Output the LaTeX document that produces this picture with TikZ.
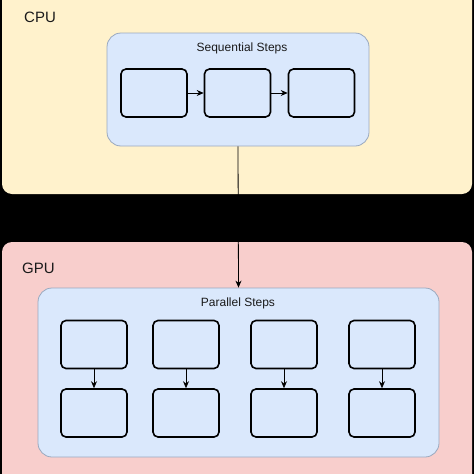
\documentclass[tikz,border=0pt]{standalone}
\usepackage{fontspec}
\setmainfont{Liberation Sans}
\usetikzlibrary{arrows.meta}
\definecolor{cpufill}{HTML}{FFF2CC}
\definecolor{gpufill}{HTML}{F8CECC}
\definecolor{grpfill}{HTML}{DAE8FC}
\definecolor{grpdraw}{HTML}{9AA9BF}
\definecolor{txt}{HTML}{1A1A1A}
\tikzset{
  region/.style={rounded corners=10pt, line width=0.6pt},
  group/.style={fill=grpfill, draw=grpdraw, line width=0.8pt, rounded corners=14pt},
  stepbox/.style={draw=black, fill=grpfill, line width=1.6pt, rounded corners=5pt, minimum width=66pt, minimum height=48pt, inner sep=0pt},
  conn/.style={draw=black, line width=0.8pt, -{Stealth[length=7pt,width=6pt]}},
  lab/.style={font=\fontsize{12}{14}\selectfont, text=txt, inner sep=0pt},
  biglab/.style={font=\fontsize{15}{17}\selectfont, text=txt, inner sep=0pt}
}
\begin{document}
\begin{tikzpicture}[x=1pt,y=-1pt]
\fill[black] (0,0) rectangle (474,474);
\useasboundingbox (0,0) rectangle (474,474);
% CPU region
\fill[cpufill, region] (2,-20) rectangle (472,194);
\node[biglab, anchor=west] (cpu) at (24,17) {CPU};
% GPU region
\fill[gpufill, region] (2,242) rectangle (472,494);
\node[biglab, anchor=west] (gpu) at (22,268) {GPU};
% Sequential group
\node[group, minimum width=262pt, minimum height=113pt, inner sep=0pt] (seq) at (238,89.5) {};
\node[lab] (seqlab) at (242,48) {Sequential Steps};
\node[stepbox] (s1) at (154,93) {};
\node[stepbox] (s2) at (237.5,93) {};
\node[stepbox] (s3) at (321.5,93) {};
\draw[conn] (s1) -- (s2);
\draw[conn] (s2) -- (s3);
% Parallel group
\node[group, minimum width=401pt, minimum height=169pt, inner sep=0pt] (par) at (238.5,372.5) {};
\node[lab] (parlab) at (238,303) {Parallel Steps};
\foreach \i/\x in {1/94,2/186,3/284,4/382}{
  \node[stepbox] (t\i) at (\x,344.5) {};
  \node[stepbox] (b\i) at (\x,413) {};
  \draw[conn] (t\i) -- (b\i);
}
\draw[conn] (seq.south) -- (par.north);
\end{tikzpicture}
\end{document}
